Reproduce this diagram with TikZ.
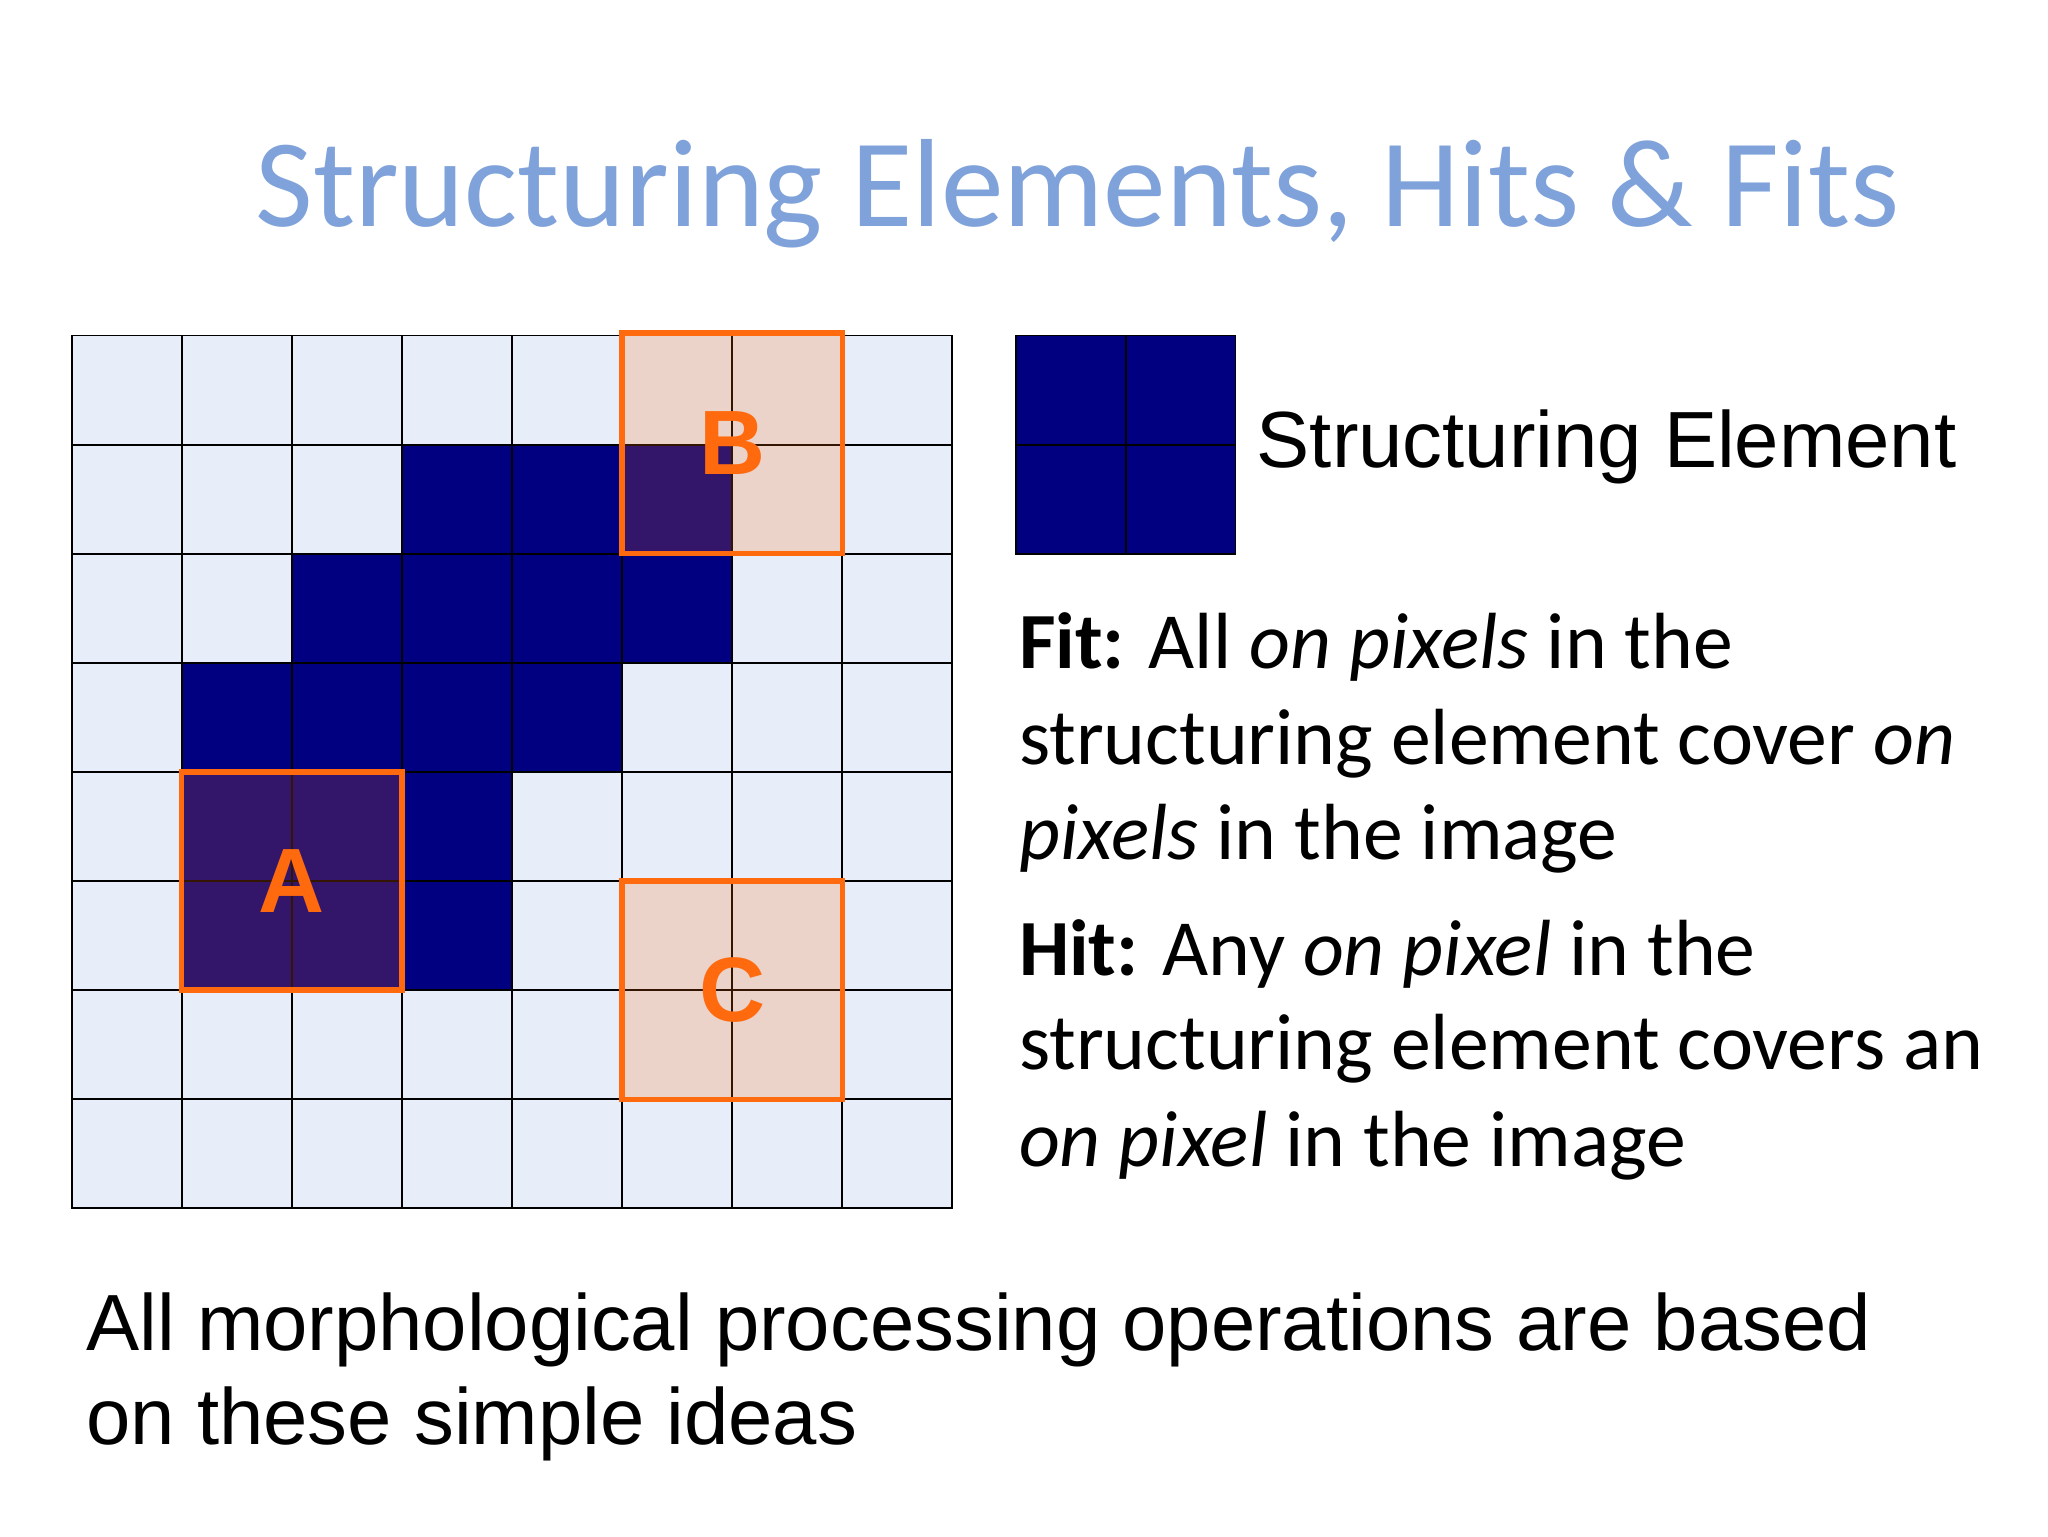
\documentclass[tikz,border=0pt]{standalone}
\usepackage{fontspec}
\setmainfont{Carlito}
\newfontfamily\arialf{Liberation Sans}
\definecolor{lightc}{HTML}{E8EEF9}
\definecolor{navyc}{HTML}{000080}
\definecolor{orc}{HTML}{FF6A0E}
\definecolor{titc}{HTML}{7FA2DA}
\begin{document}
\begin{tikzpicture}[x=1pt,y=-1pt,
  cell/.style={draw=black,line width=1.2pt},
  sebox/.style={draw=orc,line width=4pt,fill=orc,fill opacity=0.2},
  lab/.style={text=orc,font=\arialf\bfseries\fontsize{70}{70}\selectfont,text opacity=1,fill opacity=0},
  txt/.style={anchor=west,inner sep=0pt,font=\fontsize{61}{61}\selectfont}]
\useasboundingbox (0,0) rectangle (1568,1176);
\fill[white] (0,0) rectangle (1568,1176);
\node[text=titc,font=\fontsize{96}{96}\selectfont] (title) at (825,148) {Structuring Elements, Hits \& Fits};
% grid
\def\cw{84.25}\def\ch{83.5}
\foreach \r in {0,...,7}{\foreach \c in {0,...,7}{
  \draw[cell,fill=lightc] ({55+\c*\cw},{257+\r*\ch}) rectangle ++(\cw,\ch);}}
\foreach \r/\c in {1/3,1/4,1/5,2/2,2/3,2/4,2/5,3/1,3/2,3/3,3/4,4/1,4/2,4/3,5/1,5/2,5/3}{
  \draw[cell,fill=navyc] ({55+\c*\cw},{257+\r*\ch}) rectangle ++(\cw,\ch);}
\draw[sebox] ({55+5*\cw},{255}) rectangle ++({2*\cw},{2*\ch+2}) node[lab,midway] (B) {B};
\draw[sebox] ({55+1*\cw},{257+4*\ch}) rectangle ++({2*\cw},{2*\ch}) node[lab,midway] (A) {A};
\draw[sebox] ({55+5*\cw},{257+5*\ch}) rectangle ++({2*\cw},{2*\ch}) node[lab,midway] (C) {C};
% structuring element
\foreach \r in {0,1}{\foreach \c in {0,1}{
  \draw[cell,fill=navyc] ({778+\c*84},{257+\r*83.5}) rectangle ++(84,83.5);}}
\node[txt,font=\arialf\fontsize{61}{61}\selectfont] (se) at (962,342) {Structuring Element};
\node[txt] (f1) at (780,495) {\textbf{Fit:} All \textit{on pixels} in the};
\node[txt] (f2) at (780,569) {structuring element cover \textit{on}};
\node[txt] (f3) at (780,642) {\textit{pixels} in the image};
\node[txt] (h1) at (780,730) {\textbf{Hit:} Any \textit{on pixel} in the};
\node[txt] (h2) at (780,803) {structuring element covers an};
\node[txt] (h3) at (780,877) {\textit{on pixel} in the image};
\node[txt,font=\arialf\fontsize{61}{61}\selectfont] (b1) at (66,1018) {All morphological processing operations are based};
\node[txt,font=\arialf\fontsize{61}{61}\selectfont] (b2) at (66,1090) {on these simple ideas};
\end{tikzpicture}
\end{document}
